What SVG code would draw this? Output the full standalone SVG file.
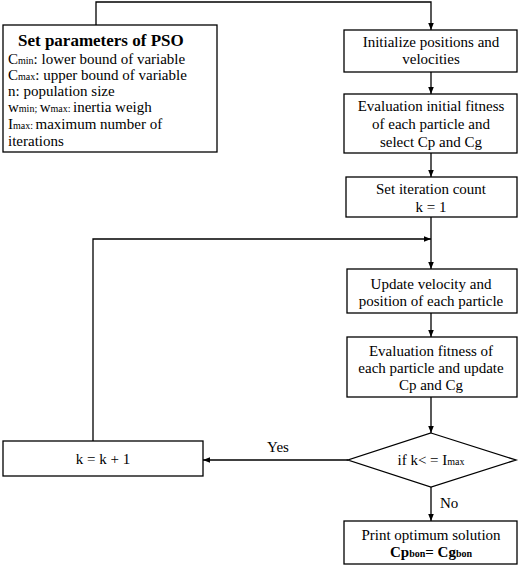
<svg xmlns="http://www.w3.org/2000/svg" width="519" height="566" viewBox="0 0 519 566" font-family="'Liberation Serif', 'Times New Roman', 'DejaVu Serif', serif">
<defs>
<style>
.box{fill:#fff;stroke:#000;stroke-width:1.3}
.t{font-size:15px;fill:#000}
.c{text-anchor:middle}
.s{font-size:10px}
.ln{fill:none;stroke:#000;stroke-width:1.3}
</style>
<marker id="ah" viewBox="0 0 10 10" refX="10" refY="5" markerWidth="7" markerHeight="7" markerUnits="userSpaceOnUse" orient="auto">
<path d="M0,1 L10,5 L0,9 z" fill="#000"/>
</marker>
</defs>
<g id="connectors">
<path class="ln" d="M96,25 V2 H431 V30" marker-end="url(#ah)"/>
<path class="ln" d="M431,72 V94" marker-end="url(#ah)"/>
<path class="ln" d="M431,153 V177" marker-end="url(#ah)"/>
<path class="ln" d="M431,217 V269" marker-end="url(#ah)"/>
<path class="ln" d="M93,441 V239 H431" marker-end="url(#ah)"/>
<path class="ln" d="M431,313 V337" marker-end="url(#ah)"/>
<path class="ln" d="M431,397 V433" marker-end="url(#ah)"/>
<path class="ln" d="M348,460 H203" marker-end="url(#ah)"/>
<path class="ln" d="M431,487 V521" marker-end="url(#ah)"/>
<text class="t c" x="278" y="452">Yes</text>
<text class="t" x="440" y="508">No</text>
</g>
<g id="params">
<rect class="box" x="3" y="25" width="214" height="127"/>
<text class="t" x="18" y="46" style="font-weight:bold;font-size:17px">Set parameters of PSO</text>
<text class="t" x="8" y="64">C<tspan class="s">min</tspan>: lower bound of variable</text>
<text class="t" x="8" y="80">C<tspan class="s">max</tspan>: upper bound of variable</text>
<text class="t" x="8" y="96">n: population size</text>
<text class="t" x="8" y="112">w<tspan class="s">min; </tspan>w<tspan class="s">max: </tspan>inertia weigh</text>
<text class="t" x="8" y="129">I<tspan class="s">max: </tspan>maximum number of</text>
<text class="t" x="8" y="146">iterations</text>
</g>
<g id="init">
<rect class="box" x="344" y="30" width="173" height="42"/>
<text class="t c" x="431" y="47">Initialize positions and</text>
<text class="t c" x="431" y="64">velocities</text>
</g>
<g id="evalinit">
<rect class="box" x="344" y="94" width="173" height="59"/>
<text class="t c" x="431" y="111">Evaluation initial fitness</text>
<text class="t c" x="431" y="129">of each particle and</text>
<text class="t c" x="431" y="147">select Cp and Cg</text>
</g>
<g id="setiter">
<rect class="box" x="346" y="177" width="171" height="40"/>
<text class="t c" x="431" y="194">Set iteration count</text>
<text class="t c" x="431" y="212">k = 1</text>
</g>
<g id="update">
<rect class="box" x="347" y="269" width="170" height="44"/>
<text class="t c" x="431" y="289">Update velocity and</text>
<text class="t c" x="431" y="306">position of each particle</text>
</g>
<g id="evalfit">
<rect class="box" x="347" y="337" width="170" height="60"/>
<text class="t c" x="431" y="356">Evaluation fitness of</text>
<text class="t c" x="431" y="373">each particle and update</text>
<text class="t c" x="431" y="390">Cp and Cg</text>
</g>
<g id="decision">
<path class="box" d="M431,433 L516,460 L431,487 L348,460 Z"/>
<text class="t c" x="431" y="465">if k&lt; = I<tspan class="s">max</tspan></text>
</g>
<g id="incr">
<rect class="box" x="3" y="441" width="200" height="35"/>
<text class="t c" x="103" y="464">k = k + 1</text>
</g>
<g id="print">
<rect class="box" x="344" y="521" width="173" height="43"/>
<text class="t c" x="431" y="540">Print optimum solution</text>
<text class="t c" x="431" y="557" style="font-weight:bold">Cp<tspan class="s">bon</tspan>= Cg<tspan class="s">bon</tspan></text>
</g>
</svg>
